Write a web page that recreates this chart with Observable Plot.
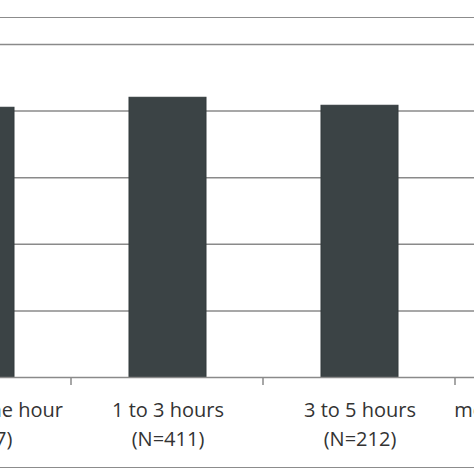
<!DOCTYPE html>
<html>
<head>
<meta charset="utf-8">
<script src="https://cdn.jsdelivr.net/npm/d3@7"></script>
<script src="https://cdn.jsdelivr.net/npm/@observablehq/plot@0.6"></script>
<style>
  html, body { margin: 0; padding: 0; background: #fff; }
  #wrap { position: relative; width: 474px; height: 474px; overflow: hidden; background: #fff; }
  #frame { position: absolute; left: 0; right: 0; top: 17px; height: 449px;
           border-top: 1.5px solid #8c8c8c; border-bottom: 1.5px solid #8c8c8c; }
  #chart { position: absolute; top: 0; left: -121px; width: 768px; height: 474px; }
  #chart svg { max-width: none !important; width: 768px; height: 474px; }
</style>
</head>
<body>
<div id="wrap"><div id="frame"></div><div id="chart"></div></div>
<script>
const categories = ["less than one hour\n(N=137)", "1 to 3 hours\n(N=411)", "3 to 5 hours\n(N=212)", "more than five hours\n(N=98)"];
const values = [4.05, 4.2, 4.08, 4.1];
const gridTicks = [0, 1, 2, 3, 4, 5];

const data = categories.map((c, i) => ({category: c, value: values[i]}));

const plot = Plot.plot({
  width: 768,
  height: 474,
  marginLeft: 0,
  marginRight: 0,
  marginTop: 44,
  marginBottom: 97,
  style: {background: "transparent", overflow: "visible"},
  x: {domain: categories, paddingInner: 0.6, paddingOuter: 0.3, axis: null},
  y: {domain: [0, 5], axis: null},
  marks: [
    Plot.ruleY(gridTicks.slice(1), {stroke: "#8a8a8a", strokeWidth: 1.5, strokeOpacity: 1}),
    Plot.barY(data, {x: "category", y: "value", fill: "#3b4345", stroke: "#333b3d", strokeWidth: 1}),
    Plot.ruleY([0], {stroke: "#8a8a8a", strokeWidth: 1.5}),
    Plot.ruleX(categories, {x: d => d, y1: 0, y2: -0.12, dx: 95, stroke: "#8a8a8a", strokeWidth: 1.5}),
    Plot.text(data, {x: "category", y: 0, text: "category", dy: 19, lineAnchor: "top",
      lineHeight: 1.45, fontSize: 20, fill: "#333333", fontFamily: "Open Sans"})
  ]
});
document.getElementById("chart").appendChild(plot);
</script>
</body>
</html>
